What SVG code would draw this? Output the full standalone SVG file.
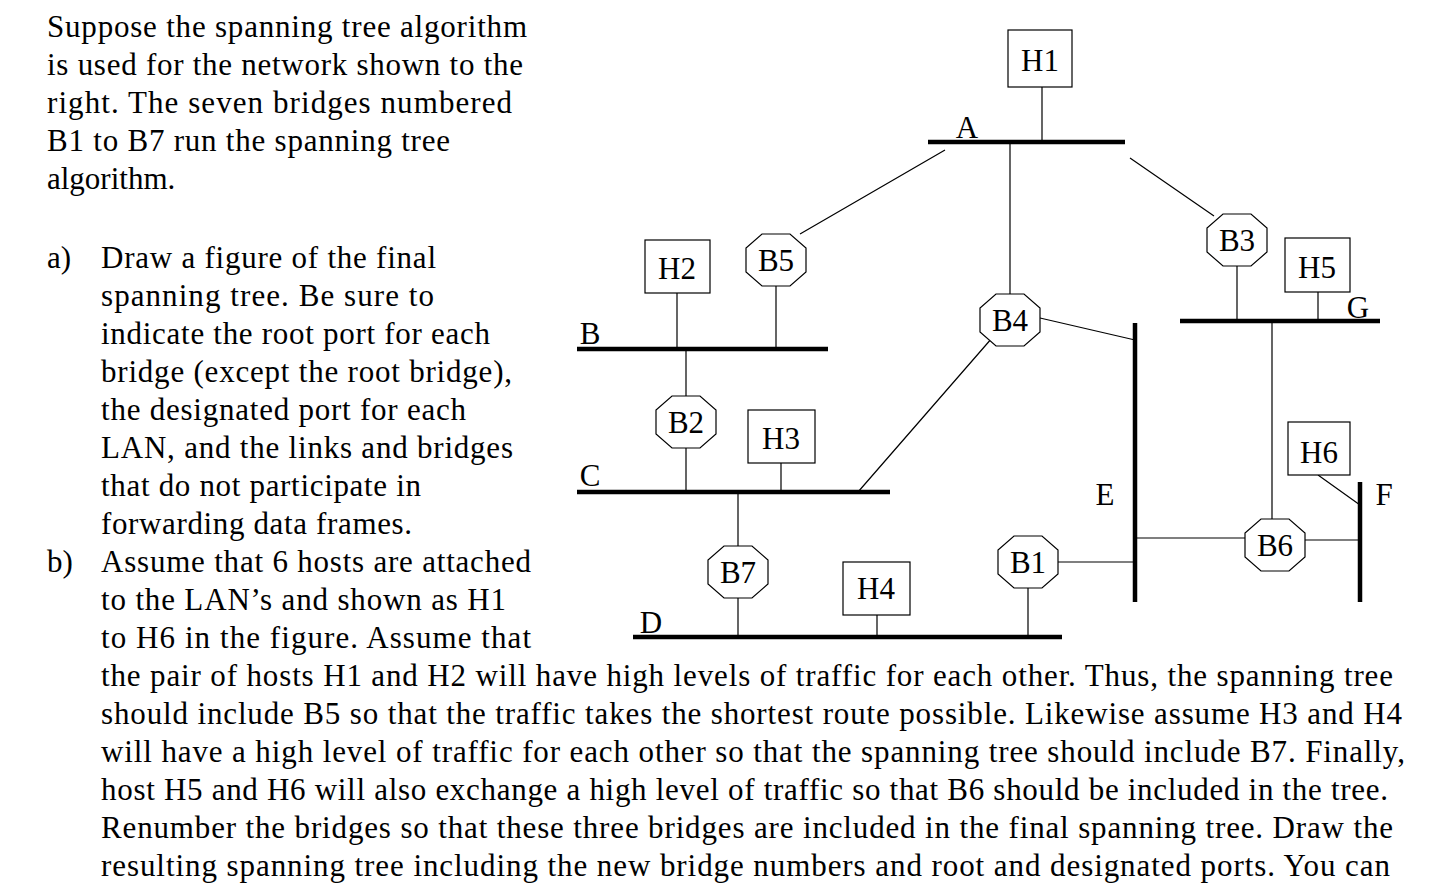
<svg xmlns="http://www.w3.org/2000/svg" width="1452" height="894" viewBox="0 0 1452 894">
<style>
text{font-family:"Liberation Serif","Times New Roman",serif;font-size:31px;fill:#000}
.b{fill:#fff;stroke:#000;stroke-width:1.2}
.l{stroke:#000;stroke-width:1.2;fill:none}
.lan{stroke:#000;stroke-width:4.5}
.c{text-anchor:middle}
</style>
<defs><polygon id="oct" points="-14,-26 14,-26 30,-12 30,12 14,26 -14,26 -30,12 -30,-12"/></defs>
<rect width="1452" height="894" fill="#fff"/>
<g id="text">
<text x="47" y="37" textLength="480" lengthAdjust="spacing">Suppose the spanning tree algorithm</text>
<text x="47" y="75" textLength="476" lengthAdjust="spacing">is used for the network shown to the</text>
<text x="47" y="113" textLength="465" lengthAdjust="spacing">right.  The seven bridges numbered</text>
<text x="47" y="151" textLength="403" lengthAdjust="spacing">B1 to B7 run the spanning tree</text>
<text x="47" y="189">algorithm.</text>
<text x="47" y="268">a)</text>
<text x="101" y="268" textLength="335" lengthAdjust="spacing">Draw a figure of the final</text>
<text x="101" y="306" textLength="333" lengthAdjust="spacing">spanning tree.  Be sure to</text>
<text x="101" y="344" textLength="389" lengthAdjust="spacing">indicate the root port for each</text>
<text x="101" y="382" textLength="411" lengthAdjust="spacing">bridge (except the root bridge),</text>
<text x="101" y="420" textLength="365" lengthAdjust="spacing">the designated port for each</text>
<text x="101" y="458" textLength="412" lengthAdjust="spacing">LAN, and the links and bridges</text>
<text x="101" y="496" textLength="320" lengthAdjust="spacing">that do not participate in</text>
<text x="101" y="534" textLength="311" lengthAdjust="spacing">forwarding data frames.</text>
<text x="47" y="572">b)</text>
<text x="101" y="572" textLength="430" lengthAdjust="spacing">Assume that 6 hosts are attached</text>
<text x="101" y="610" textLength="405" lengthAdjust="spacing">to the LAN’s and shown as H1</text>
<text x="101" y="648" textLength="430" lengthAdjust="spacing">to H6 in the figure.  Assume that</text>
<text x="101" y="686" textLength="1292" lengthAdjust="spacing">the pair of hosts H1 and H2 will have high levels of traffic for each other.  Thus, the spanning tree</text>
<text x="101" y="724" textLength="1301" lengthAdjust="spacing">should include B5 so that the traffic takes the shortest route possible.  Likewise assume H3 and H4</text>
<text x="101" y="762" textLength="1304" lengthAdjust="spacing">will have a high level of traffic for each other so that the spanning tree should include B7.  Finally,</text>
<text x="101" y="800" textLength="1287" lengthAdjust="spacing">host H5 and H6 will also exchange a high level of traffic so that B6 should be included in the tree.</text>
<text x="101" y="838" textLength="1292" lengthAdjust="spacing">Renumber the bridges so that these three bridges are included in the final spanning tree.  Draw the</text>
<text x="101" y="876" textLength="1289" lengthAdjust="spacing">resulting spanning tree including the new bridge numbers and root and designated ports.  You can</text>
</g>
<g id="connectors">
<path class="l" d="M1042 87V142 M800 234L945 150 M677 293V349 M776 286V349 M686 349V396 M686 448V492 M781 463V492 M858 492L992 338 M1010 294V142 M1040 318L1135 340 M1130 158L1214 216 M1237 266V321 M1318 292V321 M1272 321V519 M1135 538H1245 M1305 540H1360 M1318 475L1360 505 M1058 562H1135 M1028 588V637 M738 492V546 M738 598V637 M877 615V637"/>
<path class="lan" d="M928 142H1125 M577 349H828 M577 492H890 M1135 323V602 M1180 321H1380 M1360 482V602 M633 637H1062"/>
</g>
<g id="labels">
<text x="967" y="138" class="c">A</text>
<text x="590" y="344" class="c">B</text>
<text x="590" y="486" class="c">C</text>
<text x="651" y="633" class="c">D</text>
<text x="1105" y="505" class="c">E</text>
<text x="1384" y="505" class="c">F</text>
<text x="1358" y="318" class="c">G</text>
</g>
<g id="H1"><rect class="b" x="1008" y="30" width="64" height="57"/><text x="1040" y="71" class="c">H1</text></g>
<g id="H2"><rect class="b" x="645" y="240" width="65" height="53"/><text x="677" y="279" class="c">H2</text></g>
<g id="H3"><rect class="b" x="748" y="410" width="67" height="53"/><text x="781" y="449" class="c">H3</text></g>
<g id="H4"><rect class="b" x="843" y="562" width="67" height="53"/><text x="876" y="599" class="c">H4</text></g>
<g id="H5"><rect class="b" x="1285" y="238" width="65" height="54"/><text x="1317" y="278" class="c">H5</text></g>
<g id="H6"><rect class="b" x="1288" y="422" width="62" height="53"/><text x="1319" y="463" class="c">H6</text></g>
<g id="B5"><use href="#oct" x="776" y="260" class="b"/><text x="776" y="271" class="c">B5</text></g>
<g id="B2"><use href="#oct" x="686" y="422" class="b"/><text x="686" y="433" class="c">B2</text></g>
<g id="B4"><use href="#oct" x="1010" y="320" class="b"/><text x="1010" y="331" class="c">B4</text></g>
<g id="B3"><use href="#oct" x="1237" y="240" class="b"/><text x="1237" y="251" class="c">B3</text></g>
<g id="B6"><use href="#oct" x="1275" y="545" class="b"/><text x="1275" y="556" class="c">B6</text></g>
<g id="B1"><use href="#oct" x="1028" y="562" class="b"/><text x="1028" y="573" class="c">B1</text></g>
<g id="B7"><use href="#oct" x="738" y="572" class="b"/><text x="738" y="583" class="c">B7</text></g>
</svg>
